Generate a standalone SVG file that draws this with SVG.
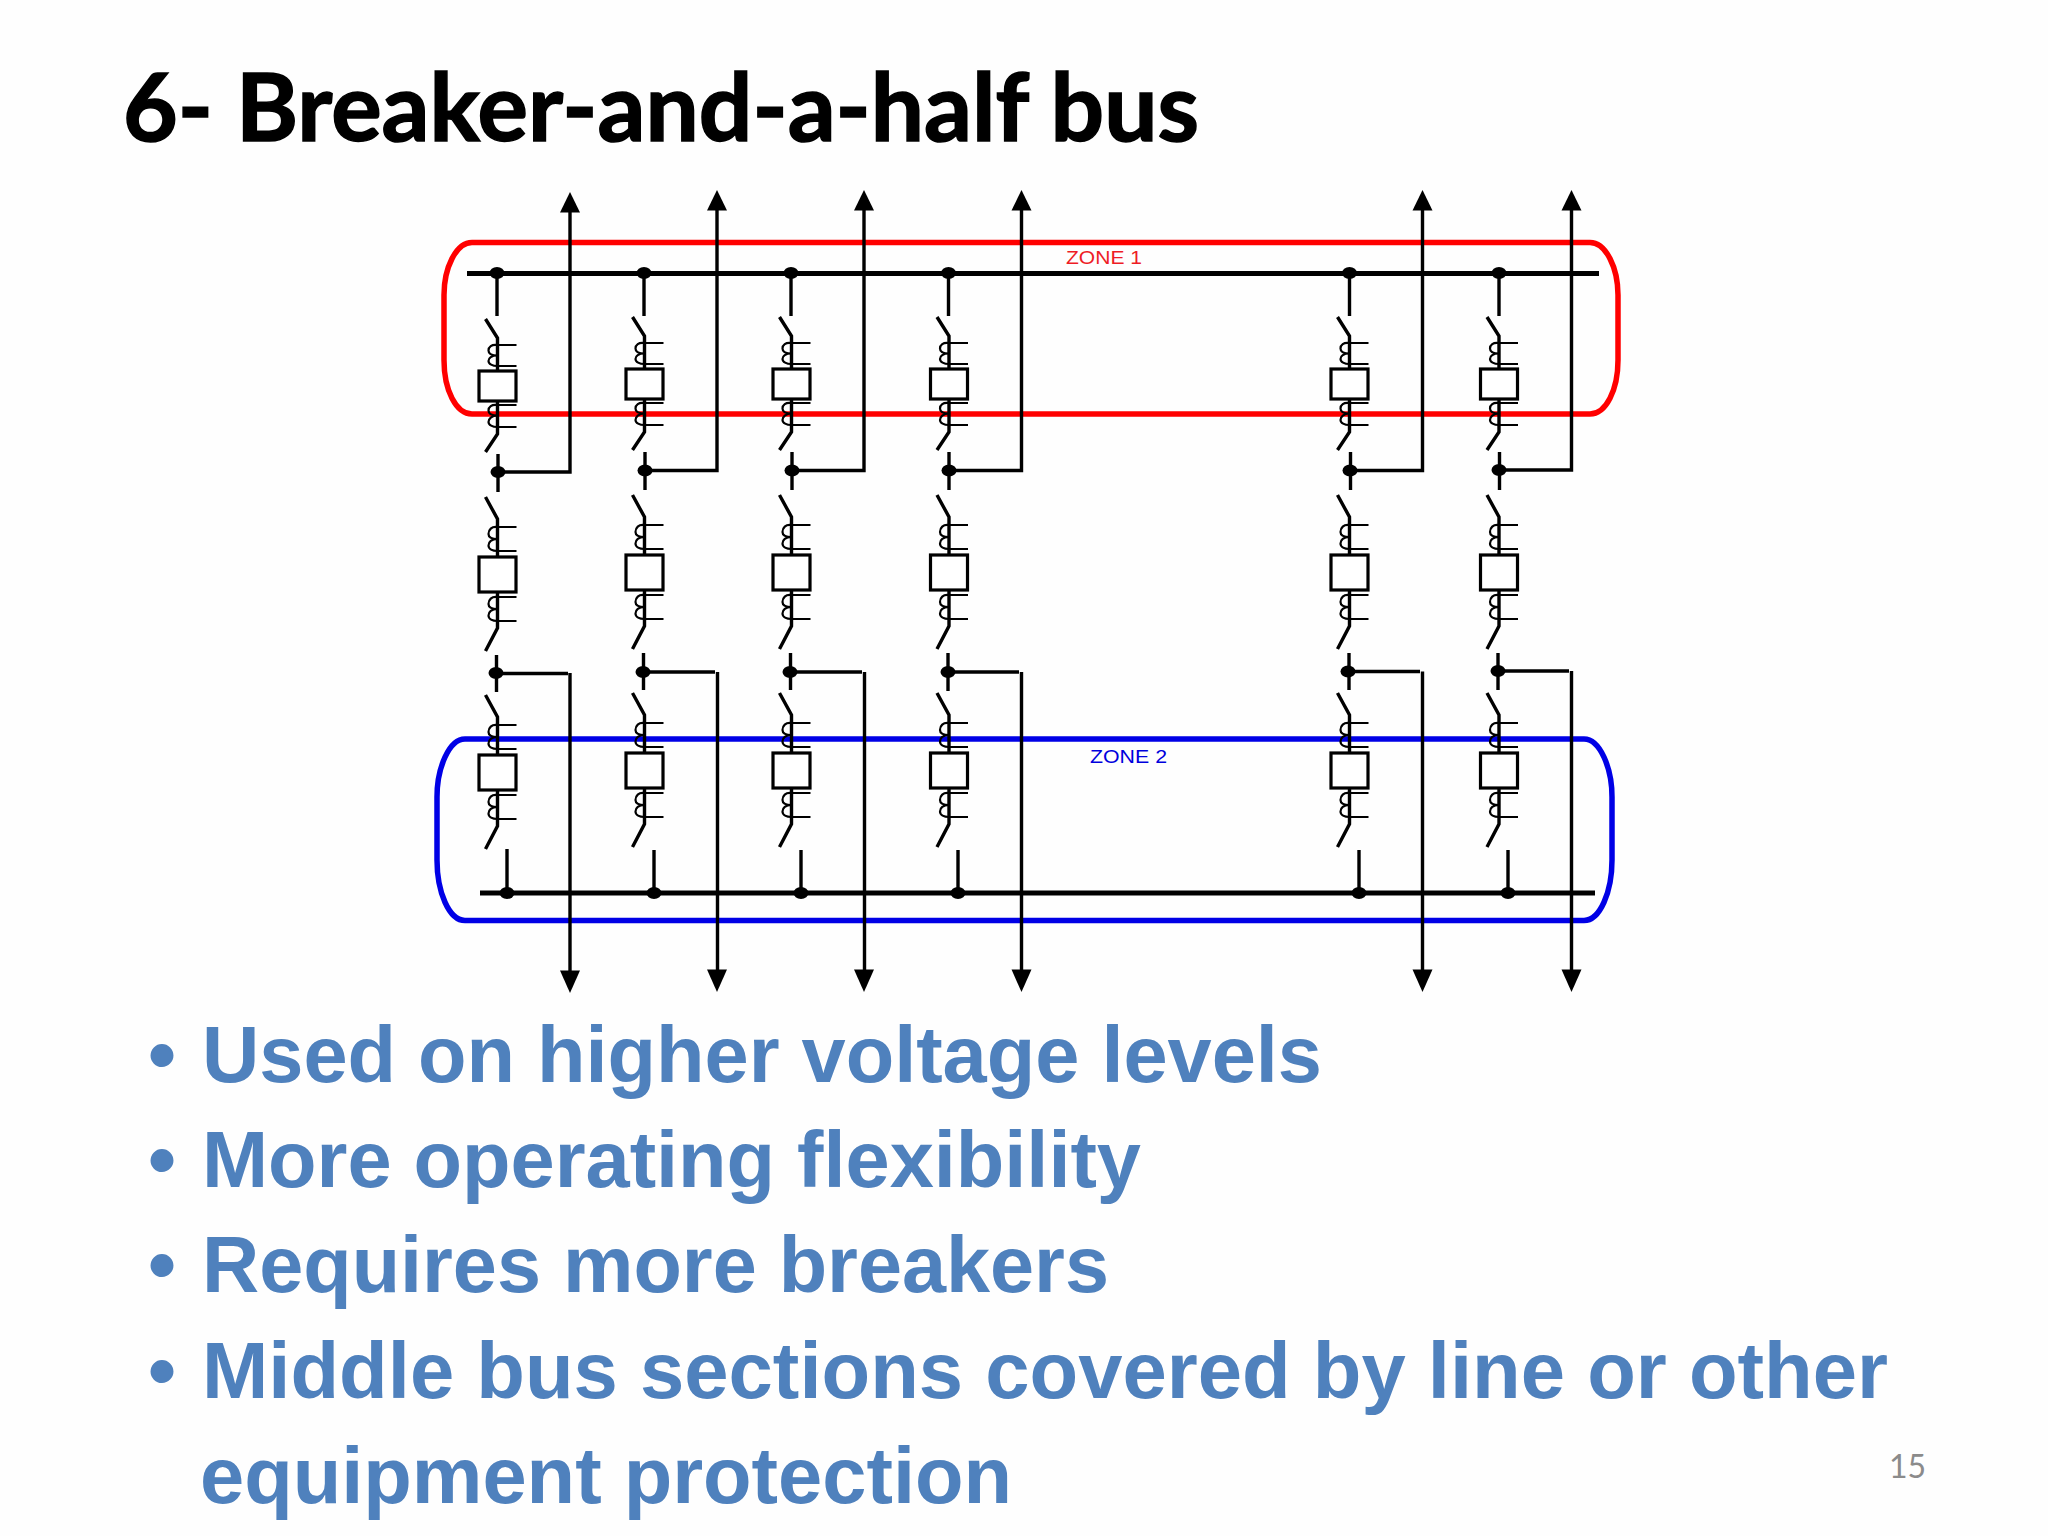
<svg xmlns="http://www.w3.org/2000/svg" width="2048" height="1536" viewBox="0 0 2048 1536">
<style>
.w{fill:none;stroke:#000;stroke-width:3.400}
.t{fill:none;stroke:#000;stroke-width:2.200}
.bus{fill:none;stroke:#000;stroke-width:4.800}
.box{fill:#fff;stroke:#000;stroke-width:3.200}
.d{fill:#000}
.title{font-family:Lato,"Liberation Sans",sans-serif;font-weight:700;font-size:93px;fill:#000;stroke:#000;stroke-width:1.500}
.b{font-family:"Liberation Sans",Arial,sans-serif;font-weight:700;font-size:80px;fill:#4f81bd}
.z{font-family:"Liberation Sans",Arial,sans-serif;font-size:18.500px}
.n{font-family:Lato,"Liberation Sans",sans-serif;font-size:32px;fill:#8b8b8b}
</style>
<defs>
<g id="unitA">
<path class="w" d="M-12 0L0 19V52M0 82V115L-12 133"/>
<path class="t" d="M0 26H19M0 47H19M0 86H19M0 108H19"/>
<path class="t" d="M0 26C-6 25 -9 28 -9 31.500C-9 35 -5 36.500 0 36.500C-6 36.500 -9 39 -9 42C-9 45 -5 47 0 47"/>
<path class="t" d="M0 86C-6 85 -9 88 -9 91.500C-9 95 -5 96.500 0 96.500C-6 96.500 -9 100 -9 103C-9 106 -5 108 0 108"/>
<rect class="box" x="-18.500" y="52" width="37" height="30"/>
</g>
<g id="unitB">
<path class="w" d="M-12 0L0 22V60M0 95V131L-12 154"/>
<path class="t" d="M0 30H19M0 54H19M0 100H19M0 124H19"/>
<path class="t" d="M0 30C-6 29 -9 33 -9 37C-9 41 -5 42 0 42C-6 42 -9 45 -9 48.500C-9 52 -5 54 0 54"/>
<path class="t" d="M0 100C-6 99 -9 103 -9 107C-9 111 -5 112 0 112C-6 112 -9 115 -9 118.500C-9 122 -5 124 0 124"/>
<rect class="box" x="-18.500" y="60" width="37" height="35"/>
</g>
<ellipse id="dot" class="d" rx="7.500" ry="6"/>
<path id="up" class="d" d="M0 0L10 20.500H-10Z"/>
<path id="down" class="d" d="M0 0L10 -22.500H-10Z"/>
</defs>
<rect width="2048" height="1536" fill="#fefefe"/>
<text id="title" class="title" x="123" y="141" textLength="1076" lengthAdjust="spacingAndGlyphs">6- Breaker-and-a-half bus</text>

<g id="zones">
<path id="zone1" fill="none" stroke="#f00" stroke-width="5.500" d="M472 242.500H1590C1606 242.500 1618 268 1618 295V360C1618 390 1606 414 1590 414H472C456 414 444 390 444 360V295C444 268 456 242.500 472 242.500Z"/>
<path id="zone2" fill="none" stroke="#0000e6" stroke-width="5.500" d="M465 739H1584C1600 739 1612 768 1612 797V860C1612 892 1600 920.500 1584 920.500H465C449 920.500 437 892 437 860V797C437 768 449 739 465 739Z"/>
<text class="z" x="1066" y="264" fill="#ee1c25" textLength="76" lengthAdjust="spacingAndGlyphs">ZONE 1</text>
<text class="z" x="1090" y="763" fill="#0000dd" textLength="77" lengthAdjust="spacingAndGlyphs">ZONE 2</text>
</g>

<g id="buses">
<path class="bus" d="M467 273.500H1599"/>
<path class="bus" d="M480 893H1595"/>
</g>

<g id="connectors">
<path class="w" d="M498 472H570V208"/><path class="w" d="M645 470.500H717V206"/><path class="w" d="M792 470.500H864V206"/><path class="w" d="M949 470.500H1021.500V206"/><path class="w" d="M1350 470.500H1422.500V206"/><path class="w" d="M1499 470H1571.500V206"/>
<use href="#up" x="570" y="192"/><use href="#up" x="717" y="190"/><use href="#up" x="864" y="190"/><use href="#up" x="1021.500" y="190"/><use href="#up" x="1422.500" y="190"/><use href="#up" x="1571.500" y="190"/>
<path class="w" d="M496 673.500H568"/><path class="w" d="M570 673V975"/>
<path class="w" d="M643 672H715"/><path class="w" d="M717.500 672V975"/>
<path class="w" d="M790 672H862"/><path class="w" d="M864.500 672V975"/>
<path class="w" d="M948 672H1019"/><path class="w" d="M1021.500 672V975"/>
<path class="w" d="M1348 671.500H1420"/><path class="w" d="M1422.500 671.500V975"/>
<path class="w" d="M1498 671H1569"/><path class="w" d="M1571.500 671V975"/>
<use href="#down" x="570" y="993"/><use href="#down" x="717" y="992"/><use href="#down" x="864" y="992"/><use href="#down" x="1021.500" y="992"/><use href="#down" x="1422.500" y="992"/><use href="#down" x="1571.500" y="992"/>
</g>

<g id="bay-1">
<use href="#dot" x="497" y="273"/><path class="w" d="M497 273V316"/>
<use href="#unitA" x="497.500" y="319"/>
<path class="w" d="M498 454V492"/><use href="#dot" x="498" y="472"/>
<use href="#unitB" x="497.500" y="497"/>
<path class="w" d="M496.500 655V692"/><use href="#dot" x="496" y="673"/>
<use href="#unitB" x="497.500" y="695"/>
<path class="w" d="M507 849V893"/><use href="#dot" x="507" y="893"/>
</g>
<g id="bay-2">
<use href="#dot" x="644" y="273"/><path class="w" d="M644 273V316"/>
<use href="#unitA" x="644.500" y="317"/>
<path class="w" d="M645 452V490"/><use href="#dot" x="645" y="470.500"/>
<use href="#unitB" x="644.500" y="495"/>
<path class="w" d="M643.500 653V690"/><use href="#dot" x="643" y="672"/>
<use href="#unitB" x="644.500" y="693"/>
<path class="w" d="M654 850V893"/><use href="#dot" x="654" y="893"/>
</g>
<g id="bay-3">
<use href="#dot" x="791" y="273"/><path class="w" d="M791 273V316"/>
<use href="#unitA" x="791.500" y="317"/>
<path class="w" d="M792 452V490"/><use href="#dot" x="792" y="470.500"/>
<use href="#unitB" x="791.500" y="495"/>
<path class="w" d="M790.500 653V690"/><use href="#dot" x="790" y="672"/>
<use href="#unitB" x="791.500" y="693"/>
<path class="w" d="M801 850V893"/><use href="#dot" x="801" y="893"/>
</g>
<g id="bay-4">
<use href="#dot" x="948.500" y="273"/><path class="w" d="M948.500 273V316"/>
<use href="#unitA" x="949" y="317"/>
<path class="w" d="M949 452V490"/><use href="#dot" x="949" y="470.500"/>
<use href="#unitB" x="949" y="495"/>
<path class="w" d="M948 653V691"/><use href="#dot" x="948" y="672"/>
<use href="#unitB" x="949" y="693"/>
<path class="w" d="M958 850V893"/><use href="#dot" x="958" y="893"/>
</g>
<g id="bay-5">
<use href="#dot" x="1349.500" y="273"/><path class="w" d="M1349.500 273V316"/>
<use href="#unitA" x="1349.500" y="317"/>
<path class="w" d="M1350.500 452V490"/><use href="#dot" x="1350" y="470.500"/>
<use href="#unitB" x="1349.500" y="495"/>
<path class="w" d="M1349 653V690"/><use href="#dot" x="1348" y="671.500"/>
<use href="#unitB" x="1349.500" y="693"/>
<path class="w" d="M1359 850V893"/><use href="#dot" x="1359" y="893"/>
</g>
<g id="bay-6">
<use href="#dot" x="1499" y="273"/><path class="w" d="M1499 273V316"/>
<use href="#unitA" x="1499" y="317"/>
<path class="w" d="M1499.500 452V490"/><use href="#dot" x="1499" y="470"/>
<use href="#unitB" x="1499" y="495"/>
<path class="w" d="M1498 653V690"/><use href="#dot" x="1498" y="671"/>
<use href="#unitB" x="1499" y="693"/>
<path class="w" d="M1508 850V893"/><use href="#dot" x="1508" y="893"/>
</g>

<g id="bullets">
<text class="b" x="148" y="1082">•</text><text class="b" x="202" y="1082" textLength="1120" lengthAdjust="spacingAndGlyphs">Used on higher voltage levels</text>
<text class="b" x="148" y="1187">•</text><text class="b" x="202" y="1187" textLength="939" lengthAdjust="spacingAndGlyphs">More operating flexibility</text>
<text class="b" x="148" y="1292">•</text><text class="b" x="202" y="1292" textLength="907" lengthAdjust="spacingAndGlyphs">Requires more breakers</text>
<text class="b" x="148" y="1398">•</text><text class="b" x="202" y="1398" textLength="1686" lengthAdjust="spacingAndGlyphs">Middle bus sections covered by line or other</text>
<text class="b" x="200" y="1503" textLength="812" lengthAdjust="spacingAndGlyphs">equipment protection</text>
</g>
<text id="page" class="n" x="1889" y="1478">15</text>
</svg>
